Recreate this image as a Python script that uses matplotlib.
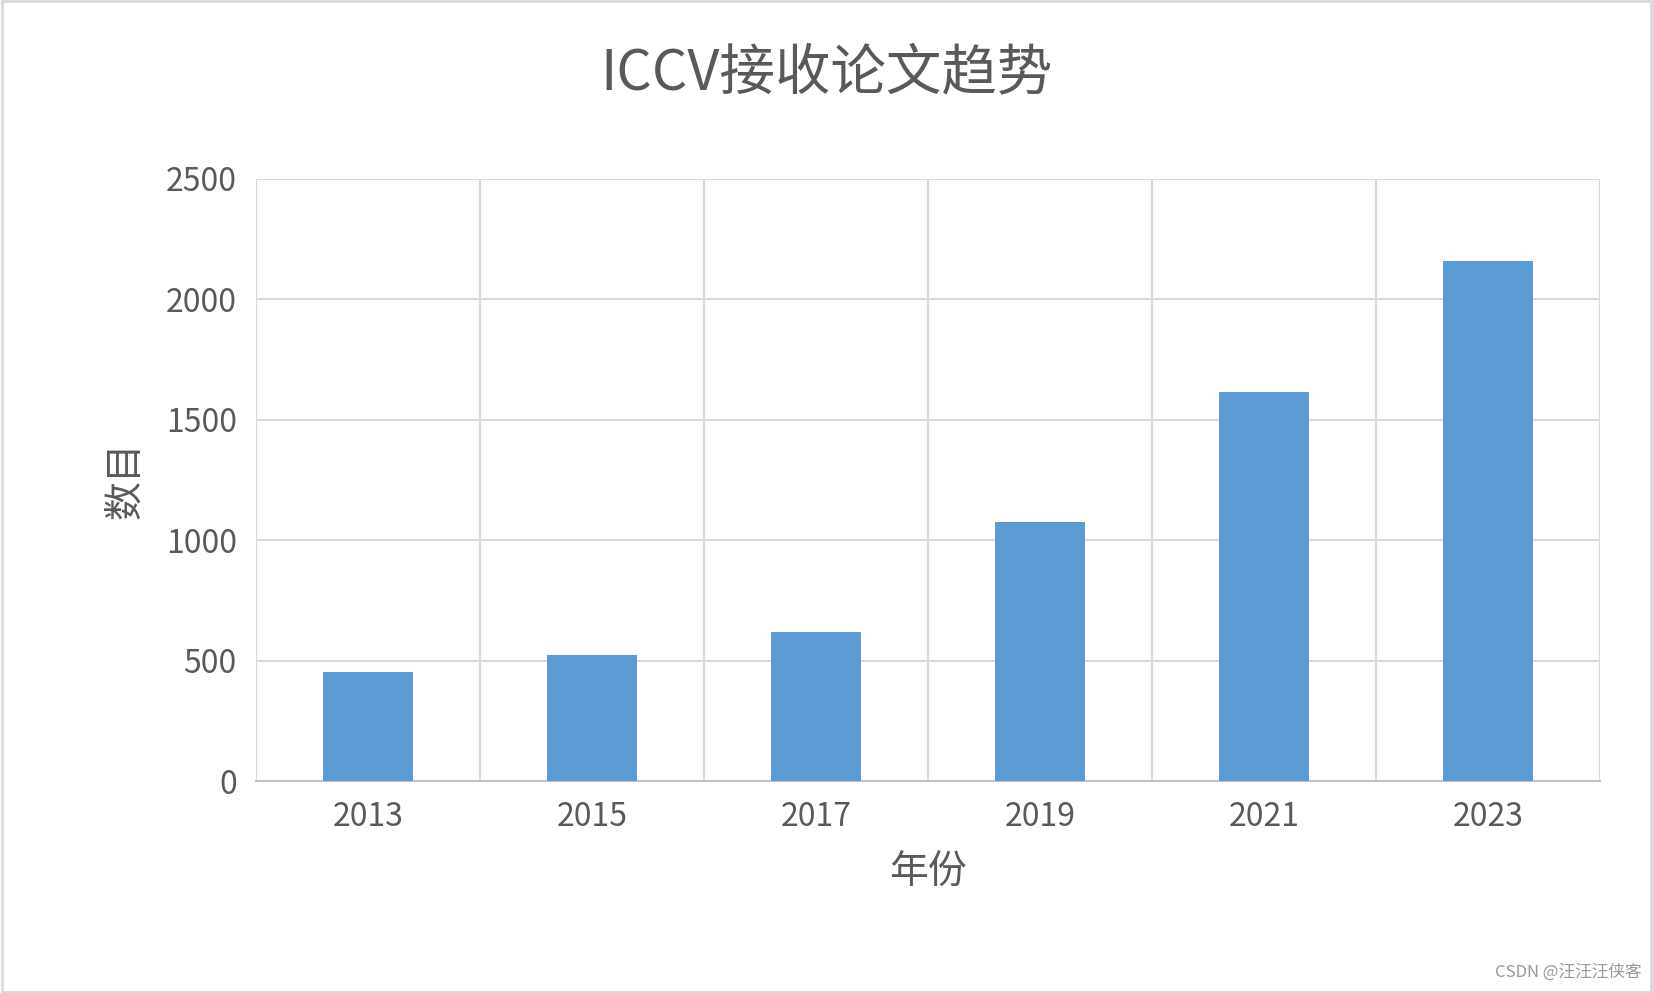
import matplotlib
matplotlib.use("Agg")
import matplotlib.pyplot as plt
import numpy as np

plt.rcParams['font.family'] = ['Noto Sans CJK SC', 'DejaVu Sans']

# ====================== DATA ======================
years = ['2013', '2015', '2017', '2019', '2021', '2023']
accepted = [454, 525, 621, 1075, 1617, 2160]

bar_color = '#5B9BD5'
text_color = '#595959'
grid_color = '#D9D9D9'

# ====================== PLOT ======================
fig = plt.figure(figsize=(16.53, 9.93), dpi=100)
ax = fig.add_axes([0.155, 0.213, 0.813, 0.607])

x = np.arange(len(years))
ax.bar(x, accepted, width=0.4, color=bar_color, zorder=3)

ax.set_xlim(-0.5, len(years) - 0.5)
ax.set_ylim(0, 2500)
ax.set_yticks(range(0, 2501, 500))
ax.set_xticks(x)
ax.set_xticklabels(years)

# category boundary lines + horizontal grid
for b in np.arange(-0.5, len(years), 1.0):
    ax.axvline(b, color=grid_color, lw=1.5, zorder=1)
ax.grid(axis='y', color=grid_color, lw=1.5, zorder=1)

for s in ['top', 'left', 'right']:
    ax.spines[s].set_visible(False)
ax.spines['bottom'].set_color('#BFBFBF')
ax.spines['bottom'].set_linewidth(1.5)

ax.tick_params(axis='both', length=0, labelsize=23, colors=text_color, pad=14)
ax.set_xlabel('年份', fontsize=28, color=text_color, labelpad=14)
ax.set_ylabel('数目', fontsize=28, color=text_color, labelpad=14)

fig.suptitle('ICCV接收论文趋势', fontsize=40, color=text_color, y=0.955)

fig.text(0.993, 0.012, 'CSDN @汪汪汪侠客', ha='right', va='bottom', fontsize=12, color='#999999')

# outer border
fig.patches.append(plt.Rectangle((0.001, 0.001), 0.998, 0.998, transform=fig.transFigure,
                                 fill=False, edgecolor='#D9D9D9', lw=2))

plt.savefig('out.png', dpi=100)
